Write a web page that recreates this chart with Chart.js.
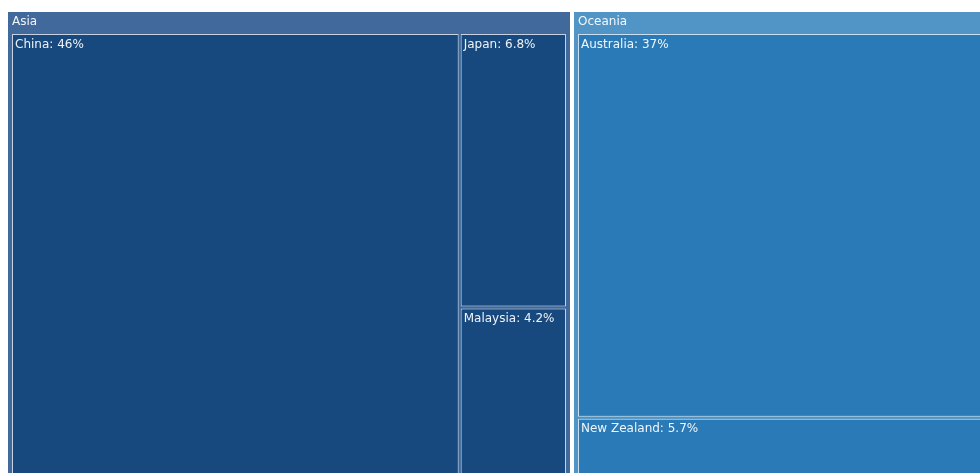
<!DOCTYPE html>
<html>
<head>
<meta charset="utf-8">
<script src="https://cdn.jsdelivr.net/npm/chart.js@4.4.1/dist/chart.umd.min.js"></script>
<style>
  html, body { margin: 0; padding: 0; background: #fff; overflow: hidden; }
  #wrap { width: 1000px; height: 490px; }
</style>
</head>
<body>
<div id="wrap"><canvas id="treeChart" width="1000" height="490"></canvas></div>
<script>
// data (share of total, %)
const groups = ['Asia', 'Oceania'];
const countries = ['China', 'Japan', 'Malaysia', 'Australia', 'New Zealand'];
const parents = ['Asia', 'Asia', 'Asia', 'Oceania', 'Oceania'];
const shares = [46, 6.8, 4.2, 37, 5.7];

// styles
const groupColors = ['#41699b', '#5195c6'];
const leafColors = {Asia: '#17497f', Oceania: '#2a7ab8'};
const DW = 990, DH = 472;

// plain squarify layout, values already in descending order
function worst(row, side) {
  var s = 0, mx = -Infinity, mn = Infinity;
  row.forEach(function (r) { s += r.a; mx = Math.max(mx, r.a); mn = Math.min(mn, r.a); });
  return Math.max(side * side * mx / (s * s), (s * s) / (side * side * mn));
}
function squarify(values, rect) {
  var total = values.reduce(function (a, b) { return a + b; }, 0);
  var k = rect.w * rect.h / total;
  var items = values.map(function (v, i) { return {i: i, a: v * k}; });
  var out = [];
  var x = rect.x, y = rect.y, w = rect.w, h = rect.h;
  var row = [];
  function layRow() {
    var s = 0;
    row.forEach(function (r) { s += r.a; });
    if (w >= h) {
      var cw = s / h, cy = y;
      row.forEach(function (r) { var rh = r.a / cw; out[r.i] = {x: x, y: cy, w: cw, h: rh}; cy += rh; });
      x += cw; w -= cw;
    } else {
      var rh2 = s / w, cx = x;
      row.forEach(function (r) { var rw = r.a / rh2; out[r.i] = {x: cx, y: y, w: rw, h: rh2}; cx += rw; });
      y += rh2; h -= rh2;
    }
    row = [];
  }
  var i = 0;
  while (i < items.length) {
    var side = Math.min(w, h);
    var cand = row.concat([items[i]]);
    if (row.length === 0 || worst(cand, side) <= worst(row, side)) { row = cand; i++; }
    else layRow();
  }
  if (row.length) layRow();
  return out;
}
function inset(r, d) { return {x: r.x + d, y: r.y + d, w: r.w - 2 * d, h: r.h - 2 * d}; }

var groupTotals = groups.map(function (g) {
  return shares.reduce(function (s, v, i) { return parents[i] === g ? s + v : s; }, 0);
});
var groupRects = squarify(groupTotals, {x: 0, y: 0, w: DW, h: DH}).map(function (r) { return inset(r, 2); });
var leafRects = [];
groups.forEach(function (g, gi) {
  var gr = groupRects[gi];
  var idx = [];
  shares.forEach(function (v, i) { if (parents[i] === g) idx.push(i); });
  var area = {x: gr.x + 3, y: gr.y + 21, w: gr.w - 6, h: gr.h - 24};
  var rs = squarify(idx.map(function (i) { return shares[i]; }), area);
  idx.forEach(function (i, j) { leafRects[i] = inset(rs[j], 1); });
});

class TreemapController extends Chart.DatasetController {
  update(mode) {
    const meta = this._cachedMeta;
    this.updateElements(meta.data, 0, meta.data.length, mode);
  }
  updateElements(rects, start, count, mode) {
    const xs = this._cachedMeta.xScale, ys = this._cachedMeta.yScale;
    for (let i = start; i < start + count; i++) {
      const r = this.getParsed(i);
      const left = xs.getPixelForValue(r.x), right = xs.getPixelForValue(r.x + r.w);
      const top = ys.getPixelForValue(r.y), bottom = ys.getPixelForValue(r.y + r.h);
      Object.assign(rects[i], {
        x: (left + right) / 2, y: top, base: bottom,
        width: right - left, height: bottom - top,
        horizontal: false, borderSkipped: {}, inflateAmount: 0,
        options: this.resolveDataElementOptions(i, mode)
      });
    }
  }
}
TreemapController.id = 'treemap';
TreemapController.defaults = {datasetElementType: false, dataElementType: 'bar'};
Chart.register(TreemapController);

const labelPlugin = {
  id: 'treeLabels',
  afterDatasetsDraw(chart) {
    const ctx = chart.ctx;
    ctx.save();
    ctx.font = "12px 'DejaVu Sans'";
    ctx.textBaseline = 'middle';
    ctx.fillStyle = 'rgba(255,255,255,0.93)';
    chart.data.datasets.forEach(function (ds, di) {
      chart.getDatasetMeta(di).data.forEach(function (el, i) {
        const left = el.x - el.width / 2;
        if (ds.label === 'groups') {
          ctx.fillText(groups[i], left + 4, el.y + 9.5);
        } else {
          ctx.fillText(countries[i] + ': ' + shares[i] + '%', left + 3, el.y + 10.5);
        }
      });
    });
    ctx.restore();
  }
};

new Chart(document.getElementById('treeChart'), {
  type: 'treemap',
  data: {
    datasets: [
      {
        label: 'leaves',
        order: 0,
        parsing: false,
        data: leafRects,
        backgroundColor: parents.map(function (p) { return leafColors[p]; }),
        borderColor: 'rgba(255,255,255,0.7)',
        borderWidth: 1
      },
      {
        label: 'groups',
        order: 1,
        parsing: false,
        data: groupRects,
        backgroundColor: groupColors,
        borderWidth: 0
      }
    ]
  },
  plugins: [labelPlugin],
  options: {
    responsive: false,
    animation: false,
    devicePixelRatio: 1,
    events: [],
    layout: {padding: {left: 6, top: 10, right: 4, bottom: 8}},
    plugins: {legend: {display: false}, tooltip: {enabled: false}},
    scales: {
      x: {type: 'linear', display: false, min: 0, max: DW},
      y: {type: 'linear', display: false, reverse: true, min: 0, max: DH}
    }
  }
});
</script>
</body>
</html>
